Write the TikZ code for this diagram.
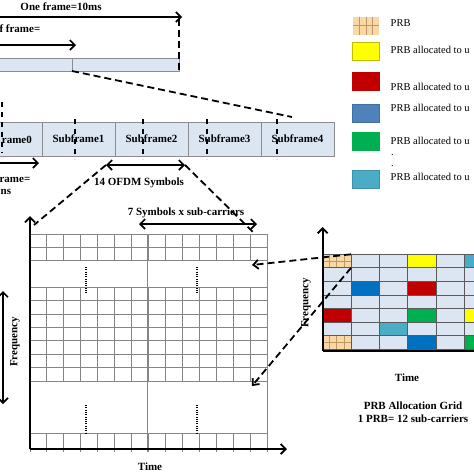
\documentclass[tikz,border=0pt]{standalone}
\usepackage{fontspec}
\setmainfont{Liberation Serif}
\usetikzlibrary{arrows.meta,positioning,calc}

\definecolor{cellblue}{HTML}{DCE6F2}
\definecolor{bargray}{HTML}{8C8C8C}
\definecolor{gridgray}{HTML}{858585}
\definecolor{celldark}{HTML}{5A5A5A}
\definecolor{prbtan}{HTML}{FAD8A6}
\definecolor{prbline}{HTML}{C09868}
\definecolor{ueyellow}{HTML}{FFFF00}
\definecolor{uered}{HTML}{C00000}
\definecolor{uesteel}{HTML}{4F81BD}
\definecolor{ueblue}{HTML}{0070C0}
\definecolor{uegreen}{HTML}{00B050}
\definecolor{uecyan}{HTML}{4BACC6}

\begin{document}
\begin{tikzpicture}[x=1pt, y=-1pt, node distance=0pt]
  \tikzstyle{title} = [font=\fontsize{11}{12.5}\selectfont\bfseries, inner sep=1pt]
  \tikzstyle{legendtext} = [font=\fontsize{10.5}{12}\selectfont, anchor=base west, inner sep=0pt]
  \tikzstyle{bar} = [rectangle, draw=bargray, fill=cellblue, line width=1pt,
    outer sep=0pt, inner sep=0pt]
  \tikzstyle{subframe} = [bar, minimum width=73pt, minimum height=34pt,
    font=\fontsize{11}{12}\selectfont\bfseries]
  \tikzstyle{legendbox} = [rectangle, line width=0.6pt, minimum width=26.6pt,
    minimum height=18pt, inner sep=0pt]
  \tikzstyle{prb} = [rectangle, fill=prbtan, inner sep=0pt, outer sep=0pt,
    path picture={
      \foreach \f in {0.25,0.5,0.75}
        \draw[prbline, line width=0.8pt]
          ($(path picture bounding box.north west)!\f!(path picture bounding box.north east)$) --
          ($(path picture bounding box.south west)!\f!(path picture bounding box.south east)$);
      \draw[prbline, line width=0.8pt] (path picture bounding box.west) -- (path picture bounding box.east);
    }]
  \tikzstyle{gridline} = [draw=gridgray, line width=0.9pt]
  \tikzstyle{cellline} = [draw=celldark, line width=0.8pt]
  \tikzstyle{line} = [draw, line width=1.6pt, -{Straight Barb[length=5pt,width=10pt]}]
  \tikzstyle{twoway} = [draw, line width=1.6pt,
    {Straight Barb[length=5pt,width=10pt]}-{Straight Barb[length=5pt,width=10pt]}]
  \tikzstyle{axis} = [draw, line width=1.8pt, -{Straight Barb[length=5pt,width=10pt]}]
  \tikzstyle{zoom} = [draw, line width=1.8pt, dash pattern=on 7pt off 4pt]
  \tikzstyle{zoomarrow} = [zoom, -{Straight Barb[length=5pt,width=9pt]}]
  \tikzstyle{slot} = [draw, line width=1.8pt, dash pattern=on 5pt off 5pt]
  \tikzstyle{dots} = [draw, line width=1.4pt, dash pattern=on 1pt off 1.3pt]

  \useasboundingbox (0,0) rectangle (474,474);
  \clip (0,0) rectangle (474,474);

  % Frame and half frame
  \node [title] (oneframe) at (61,7) {One frame=10ms};
  \coordinate (framestart) at (-5,17);
  \coordinate (frameend) at (182,17);
  \node [title, anchor=east] (halfframe) at (41.5,29) {f frame=};
  \coordinate (halfstart) at (-5,45);
  \coordinate (halfend) at (76,45);
  \node [bar, minimum width=112pt, minimum height=13pt, anchor=north east] (half0) at (72,58) {};
  \node [bar, minimum width=107pt, minimum height=13pt, anchor=north west] (half1) at (72,58) {};

  % Subframes
  \node [subframe, anchor=north east] (sf0) at (42,122) {};
  \node [title, anchor=east] (sf0text) at (33,139.5) {rame0};
  \node [subframe, right=of sf0] (sf1) {Subframe1};
  \node [subframe, right=of sf1] (sf2) {Subframe2};
  \node [subframe, right=of sf2] (sf3) {Subframe3};
  \node [subframe, right=of sf3] (sf4) {Subframe4};
  \coordinate (sfzoom) at (292,117);
  \node [title, anchor=east] (subframelen) at (31.5,180) {rame=};
  \node [title, anchor=west] (subframems) at (-0.5,192) {ns};
  \coordinate (substart) at (-5,163);
  \coordinate (subend) at (39,163);

  % Symbol labels
  \node [title] (ofdm) at (139,183) {14 OFDM Symbols};
  \coordinate (ofdmleft) at (106,165);
  \coordinate (ofdmright) at (185,165);
  \node [title] (sevensym) at (186,213) {7 Symbols x sub-carriers};
  \coordinate (sevenleft) at (139,224);
  \coordinate (sevenright) at (257,224);

  % Resource grid
  \foreach \i in {0,...,14}
    \draw [gridline] ({30+\i*16.93},234) -- ({30+\i*16.93},260.7);
  \foreach \y in {234,247.3,260.7}
    \draw [gridline] (30,\y) -- (267,\y);
  \foreach \i in {0,...,14}
    \draw [gridline] ({30+\i*16.93},287.3) -- ({30+\i*16.93},381);
  \foreach \k in {0,...,7}
    \draw [gridline] (30,{287.3+\k*13.39}) -- (267,{287.3+\k*13.39});
  \foreach \i in {0,...,14}
    \draw [gridline] ({30+\i*16.93},433) -- ({30+\i*16.93},452);
  \draw [gridline] (30,433) -- (267,433);
  \draw [gridline] (147.7,234) -- (147.7,452);
  \draw [gridline] (267,234) -- (267,452);
  \foreach \x in {86,197} {
    \draw [dots] (\x,267) -- (\x,294);
    \draw [dots] (\x,405) -- (\x,433);
  }
  \coordinate (origin) at (30,449);
  \coordinate (timeend) at (287,449);
  \coordinate (freqend) at (30,216);
  \node [title] (time) at (150,467) {Time};
  \node [title, rotate=90] (frequency) at (15,342) {Frequency};
  \coordinate (freqtop) at (3,291);
  \coordinate (freqbot) at (3,404);
  \coordinate (gridzoomleft) at (34,225);
  \coordinate (gridzoomright) at (254,233);
  \coordinate (prbzoomtop) at (252,265);
  \coordinate (prbzoombot) at (252,386);

  % PRB allocation grid
  \fill [cellblue] (322.7,254.3) rectangle (492.5,349.3);
  \foreach \c/\r/\ue in {3/0/ueyellow, 5/0/uecyan, 1/2/ueblue, 3/2/uered,
      0/4/uered, 3/4/uegreen, 5/4/ueyellow, 2/5/uecyan, 3/6/ueblue, 5/6/uegreen}
    \fill [\ue] ({322.7+\c*28.3},{254.3+\r*13.57}) rectangle +(28.3,13.57);
  \node [prb, minimum width=28.3pt, minimum height=13.57pt, anchor=north west] (prbtop) at (322.7,254.3) {};
  \node [prb, minimum width=28.3pt, minimum height=13.57pt, anchor=north west] (prbbot) at (322.7,335.7) {};
  \foreach \c in {1,...,5}
    \draw [cellline] ({322.7+\c*28.3},254.3) -- ({322.7+\c*28.3},349.3);
  \foreach \r in {0,...,7}
    \draw [cellline] (322.7,{254.3+\r*13.57}) -- (480,{254.3+\r*13.57});
  \coordinate (alloorigin) at (322.7,351);
  \coordinate (allotimeend) at (490,351);
  \coordinate (allofreqend) at (322.7,227);
  \node [title, rotate=90] (allofreq) at (306,303) {Frequency};
  \node [title] (allotime) at (407,378) {Time};
  \node [title, align=center] (allocaption) at (413,412) {PRB Allocation Grid\\1 PRB= 12 sub-carriers};

  % Legend
  \node [prb, minimum width=26.6pt, minimum height=18.3pt] (lgprb) at (366,25.8) {};
  \node [legendbox, fill=ueyellow, draw=ueyellow!75!black] (lgyellow) at (366,50.8) {};
  \node [legendbox, fill=uered, draw=uered] (lgred) at (366,81.7) {};
  \node [legendbox, fill=uesteel, draw=uesteel!85!black] (lgsteel) at (366,112.8) {};
  \node [legendbox, fill=uegreen, draw=uegreen] (lggreen) at (366,141.3) {};
  \node [legendbox, fill=uecyan, draw=uecyan!85!black] (lgcyan) at (366,179.5) {};
  \node [legendtext] (lgprbtext) at (390.5,26) {PRB};
  \node [legendtext] (lgyellowtext) at (390.5,53) {PRB allocated to u};
  \node [legendtext] (lgredtext) at (390.5,90.5) {PRB allocated to u};
  \node [legendtext] (lgsteeltext) at (390.5,111.7) {PRB allocated to u};
  \node [legendtext] (lggreentext) at (390.5,144) {PRB allocated to u};
  \node [legendtext] (lgdota) at (391,155) {.};
  \node [legendtext] (lgdotb) at (391,166) {.};
  \node [legendtext] (lgcyantext) at (390.5,180.5) {PRB allocated to u};

  % Draw edges
  \path [line] (framestart) -- (frameend);
  \path [line] (halfstart) -- (halfend);
  \path [line] (substart) -- (subend);
  \path [twoway] (ofdmleft) -- (ofdmright);
  \path [twoway] (sevenleft) -- (sevenright);
  \path [twoway] (freqtop) -- (freqbot);
  \path [axis] (origin) -- (timeend);
  \path [axis] (origin) -- (freqend);
  \path [axis] (alloorigin) -- (allotimeend);
  \path [axis] (alloorigin) -- (allofreqend);

  \path [zoom] (179,19) -- (half1.south east);
  \path [zoom] (half0.south east) -- (sfzoom);
  \path [slot] (2,102) -- (2,153);
  \foreach \x in {75,143,207,277}
    \path [slot] (\x,119) -- (\x,159);
  \path [zoom] (ofdmleft) -- (gridzoomleft);
  \path [zoom] (ofdmright) -- (gridzoomright);
  \path [zoomarrow] (prbtop.north east) -- (prbzoomtop);
  \path [zoomarrow] (prbtop.south east) -- (prbzoombot);
\end{tikzpicture}
\end{document}
